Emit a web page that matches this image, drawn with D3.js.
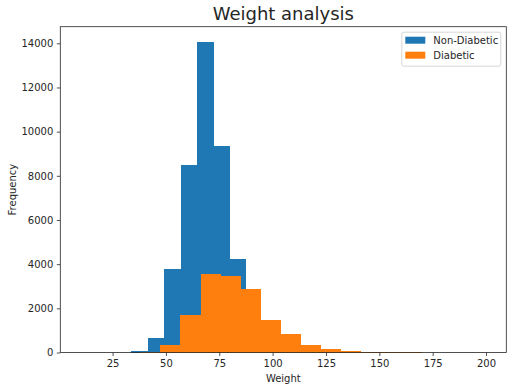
<!DOCTYPE html>
<html>
<head>
<meta charset="utf-8">
<script src="https://cdn.jsdelivr.net/npm/d3@7"></script>
<style>
  body { margin:0; background:white; }
  text { font-family:"DejaVu Sans", sans-serif; fill:#262626; }
  .title { font-size:18px; }
  .label { font-size:10px; }
  .tick text { font-size:10px; fill:#262626; }
</style>
</head>
<body>
<svg id="histgraph"></svg>
<script>
//bin edges (in kg) and counts
var nonDiabeticEdges = [33.8,41.5,49.2,56.9,64.6,72.3,80.0,87.7,95.4,103.1,110.8,118.5]
var nonDiabeticCounts = [70,650,3780,8480,14050,9340,4230,1300,420,120,40]

var diabeticEdges = [37.9,47.3,56.8,66.2,75.6,85.1,94.5,103.9,113.3,122.8,132.2,141.6,151.1,160.5,169.9]
var diabeticCounts = [40,340,1700,3550,3470,2870,1470,840,340,160,70,30,25,20]

var xTicks = [25,50,75,100,125,150,175,200]
var yTicks = [0,2000,4000,6000,8000,10000,12000,14000]

var categories = [
    {name:"Non-Diabetic", color:"#1f77b4"},
    {name:"Diabetic", color:"#ff7f0e"}
]

//turns edges+counts into bin objects
var makeBins = function(edges,counts)
{
    return counts.map(function(c,i)
    {
        return {x0:edges[i], x1:edges[i+1], count:c}
    })
}

var drawBars = function(target,bins,color,xScale,yScale)
{
    target.append("g")
          .selectAll("rect")
          .data(bins)
          .enter()
          .append("rect")
          .attr("x",function(b){return xScale(b.x0)})
          .attr("width",function(b){return xScale(b.x1)-xScale(b.x0)})
          .attr("y",function(b){return yScale(b.count)})
          .attr("height",function(b){return yScale(0)-yScale(b.count)})
          .attr("fill",color)
          .attr("shape-rendering","crispEdges")
}

var drawAxes = function(svg,graph,margins,xScale,yScale)
{
    var xAxis = d3.axisBottom(xScale)
                  .tickValues(xTicks)
                  .tickSize(3.5)
                  .tickPadding(3.5)
    svg.append("g")
       .attr("transform","translate(0,"+(margins.top+graph.height)+")")
       .call(xAxis)

    var yAxis = d3.axisLeft(yScale)
                  .tickValues(yTicks)
                  .tickFormat(d3.format("d"))
                  .tickSize(3.5)
                  .tickPadding(3.5)
    svg.append("g")
       .attr("transform","translate("+margins.left+",0)")
       .call(yAxis)

    svg.selectAll(".domain").remove()
    svg.selectAll(".tick line").attr("stroke","#262626").attr("stroke-width",0.8)

    //spines
    svg.append("rect")
       .attr("x",margins.left)
       .attr("y",margins.top)
       .attr("width",graph.width)
       .attr("height",graph.height)
       .attr("fill","none")
       .attr("stroke","#262626")
       .attr("stroke-width",0.8)
}

var drawLabels = function(svg,graph,margins)
{
    svg.append("text")
       .text("Weight analysis")
       .classed("title",true)
       .attr("text-anchor","middle")
       .attr("x",margins.left+graph.width/2)
       .attr("y",margins.top-7)

    svg.append("text")
       .text("Weight")
       .classed("label",true)
       .attr("text-anchor","middle")
       .attr("x",margins.left+graph.width/2)
       .attr("y",margins.top+graph.height+29)

    svg.append("g")
       .attr("transform","translate(16,"+(margins.top+graph.height/2)+")")
       .append("text")
       .text("Frequency")
       .classed("label",true)
       .attr("text-anchor","middle")
       .attr("transform","rotate(-90)")
}

var drawLegend = function(svg,graph,margins)
{
    var legend = svg.append("g")
                    .attr("transform","translate("+(margins.left+graph.width-105)+","+(margins.top+5)+")")

    legend.append("rect")
          .attr("x",0.5)
          .attr("y",0.5)
          .attr("width",99)
          .attr("height",34)
          .attr("rx",2)
          .attr("fill","white")
          .attr("fill-opacity",0.8)
          .attr("stroke","#cccccc")
          .attr("stroke-width",0.8)

    var entries = legend.selectAll("g.entry")
                        .data(categories)
                        .enter()
                        .append("g")
                        .classed("entry",true)
                        .attr("transform",function(c,i){return "translate(4,"+(5+i*15)+")"})

    entries.append("rect")
           .attr("width",20)
           .attr("height",7)
           .attr("fill",function(c){return c.color})

    entries.append("text")
           .text(function(c){return c.name})
           .classed("label",true)
           .attr("x",28)
           .attr("y",7.5)
}

var initGraph = function()
{
    var screen = {width:513,height:391}
    var margins = {left:60.3,right:6.7,top:26.7,bottom:38.5}
    var graph = {
        width:screen.width-margins.left-margins.right,
        height:screen.height-margins.top-margins.bottom
    }

    var svg = d3.select("#histgraph")
                .attr("width",screen.width)
                .attr("height",screen.height)

    var xScale = d3.scaleLinear()
                   .domain([0.5,209.5])
                   .range([margins.left,margins.left+graph.width])

    var yScale = d3.scaleLinear()
                   .domain([0,14752])
                   .range([margins.top+graph.height,margins.top])

    var target = svg.append("g")
    drawBars(target,makeBins(nonDiabeticEdges,nonDiabeticCounts),categories[0].color,xScale,yScale)
    drawBars(target,makeBins(diabeticEdges,diabeticCounts),categories[1].color,xScale,yScale)

    drawAxes(svg,graph,margins,xScale,yScale)
    drawLabels(svg,graph,margins)
    drawLegend(svg,graph,margins)
}

initGraph()
</script>
</body>
</html>
